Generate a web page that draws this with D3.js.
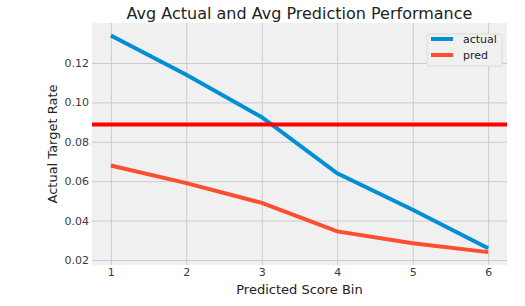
<!DOCTYPE html>
<html>
<head>
<meta charset="utf-8">
<script src="https://cdn.jsdelivr.net/npm/d3@7"></script>
<style>
  body { margin: 0; background: #fff; }
  text { font-family: "DejaVu Sans", sans-serif; }
</style>
</head>
<body>
<div id="chart"></div>
<script>
// data
var bins = [1, 2, 3, 4, 5, 6];
var actual = [0.134, 0.114, 0.0925, 0.064, 0.0455, 0.026];
var pred = [0.068, 0.059, 0.049, 0.0345, 0.0285, 0.024];
var overallRate = 0.0888;
var yTicks = [0.02, 0.04, 0.06, 0.08, 0.10, 0.12];

var width = 525, height = 306;
var plotLeft = 92, plotRight = 507, plotTop = 23, plotBottom = 265;

var svg = d3.select("#chart")
    .append("svg")
    .attr("width", width)
    .attr("height", height);

var x = d3.scaleLinear().domain([0.75, 6.25]).range([plotLeft, plotRight]);
var y = d3.scaleLinear().domain([0.01746, 0.1403]).range([plotBottom, plotTop]);

// plot background
svg.append("rect")
    .attr("x", plotLeft).attr("y", plotTop)
    .attr("width", plotRight - plotLeft).attr("height", plotBottom - plotTop)
    .attr("fill", "#f0f0f0");

// grid lines
svg.append("g")
    .attr("transform", "translate(0," + plotBottom + ")")
    .call(d3.axisBottom(x).tickValues(bins).tickSize(-(plotBottom - plotTop)).tickFormat(d3.format("d")).tickPadding(3))
    .call(function(g) {
        g.select(".domain").remove();
        g.selectAll("line").attr("stroke", "#cbcbcb").attr("stroke-width", 1);
        g.selectAll("text").attr("fill", "#3a3a3a").style("font-size", "11px");
    });

svg.append("g")
    .attr("transform", "translate(" + plotLeft + ",0)")
    .call(d3.axisLeft(y).tickValues(yTicks).tickSize(-(plotRight - plotLeft)).tickFormat(d3.format(".2f")).tickPadding(3))
    .call(function(g) {
        g.select(".domain").remove();
        g.selectAll("line").attr("stroke", "#cbcbcb").attr("stroke-width", 1);
        g.selectAll("text").attr("fill", "#3a3a3a").style("font-size", "11px");
    });

var line = d3.line()
    .x(function(d, i) { return x(bins[i]); })
    .y(function(d) { return y(d); });

svg.append("path")
    .datum(actual)
    .attr("d", line)
    .attr("fill", "none")
    .attr("stroke", "#008fd5")
    .attr("stroke-width", 4);

svg.append("path")
    .datum(pred)
    .attr("d", line)
    .attr("fill", "none")
    .attr("stroke", "#fc4f30")
    .attr("stroke-width", 4);

// overall rate line across the full plot
svg.append("line")
    .attr("x1", plotLeft).attr("x2", plotRight)
    .attr("y1", y(overallRate)).attr("y2", y(overallRate))
    .attr("stroke", "#ff0000")
    .attr("stroke-width", 4);

// legend
var legend = svg.append("g");
legend.append("rect")
    .attr("x", 427).attr("y", 34)
    .attr("width", 75).attr("height", 32)
    .attr("rx", 2)
    .attr("fill", "#f0f0f0")
    .attr("stroke", "#dcdcdc");
var series = [["actual", "#008fd5"], ["pred", "#fc4f30"]];
series.forEach(function(s, i) {
    var ly = 39 + i * 16;
    legend.append("line")
        .attr("x1", 431).attr("x2", 453)
        .attr("y1", ly).attr("y2", ly)
        .attr("stroke", s[1]).attr("stroke-width", 4);
    legend.append("text")
        .attr("x", 463).attr("y", ly + 4)
        .attr("fill", "#222")
        .style("font-size", "11px")
        .text(s[0]);
});

// title and labels
svg.append("text")
    .attr("x", (plotLeft + plotRight) / 2).attr("y", 19)
    .attr("text-anchor", "middle")
    .attr("fill", "#222")
    .style("font-size", "16px")
    .text("Avg Actual and Avg Prediction Performance");

svg.append("text")
    .attr("x", (plotLeft + plotRight) / 2).attr("y", 294)
    .attr("text-anchor", "middle")
    .attr("fill", "#222")
    .style("font-size", "13px")
    .text("Predicted Score Bin");

svg.append("text")
    .attr("transform", "translate(57," + ((plotTop + plotBottom) / 2) + ") rotate(-90)")
    .attr("text-anchor", "middle")
    .attr("fill", "#222")
    .style("font-size", "13px")
    .text("Actual Target Rate");
</script>
</body>
</html>
